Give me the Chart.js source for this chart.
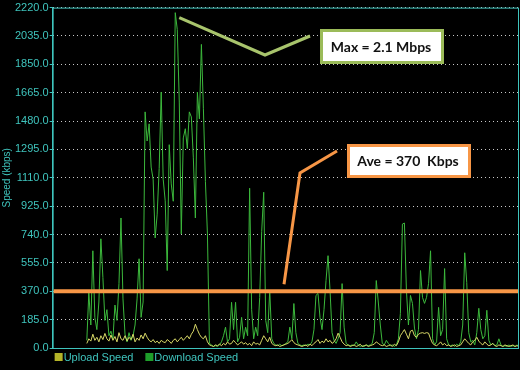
<!DOCTYPE html>
<html>
<head>
<meta charset="utf-8">
<script src="https://cdn.jsdelivr.net/npm/chart.js@4/dist/chart.umd.min.js"></script>
<style>
  html, body { margin: 0; padding: 0; background: #000; }
</style>
</head>
<body>
<canvas id="speedChart" width="520" height="370"></canvas>
<script>
// y ticks (kbps)
const yMax = 2220;
const yStep = 185;
const avgKbps = 370;

// samples, one every ~2px in the original capture
const download = [
  50, 360, 150, 634, 200, 120, 300, 712, 460, 180, 250, 80, 110, 60, 280, 180, 420, 848, 320, 90,
  40, 100, 50, 80, 150, 320, 582, 200,
  300, 1540, 1350, 1462, 1180, 1100, 718, 873, 1170, 1669, 1100, 960, 505, 1326, 1070, 957, 2187, 2077, 1604, 744,
  1370, 1430, 1300, 1540, 1507, 1240, 848, 1669, 1494, 1980, 1560, 1087, 744, 30,
  20, 10, 15, 10, 20, 40, 80, 136, 40, 60, 298, 120, 298, 40, 70, 200, 60, 136, 80, 1042,
  250, 60, 136, 80, 330, 760, 1016, 180, 100, 375, 60, 30, 20, 15, 25, 15, 20, 30, 40, 136,
  60, 290, 100, 30, 20, 15, 20, 15, 25, 20, 40, 120, 343, 356, 200, 120, 250, 440, 602, 375,
  100, 50, 30, 60, 100, 420, 136, 30, 20, 15, 20, 15, 40, 20, 10, 15, 10, 20, 15, 20,
  30, 100, 440, 300, 150, 30, 20, 50, 30, 15, 20, 10, 20, 60, 226, 808, 815, 375, 150, 343,
  291, 130, 60, 120, 505, 330, 291, 330, 420, 634, 60, 20, 40, 265, 80, 120, 518, 60, 20, 15,
  20, 10, 25, 15, 40, 150, 621, 427, 100, 40, 50, 20, 100, 259, 120, 60, 80, 246, 50, 20,
  30, 15, 20, 60, 20, 10, 15, 10, 20, 10, 15, 10, 20, 10
];

const upload = [
  30, 60, 45, 90, 50, 70, 40, 80, 55, 95, 60, 45, 85, 50, 75, 40, 100, 60, 50, 80,
  45, 70, 55, 90, 40, 65, 50, 85, 60,
  97, 70, 50, 40, 55, 35, 45, 30, 50, 40, 35, 55, 45, 30, 50, 60, 40, 55, 70, 50, 65, 80, 60,
  90, 110, 155, 120, 90, 70, 60, 80, 40, 20,
  15, 10, 20, 15, 25, 15, 30, 20, 40, 25, 30, 50, 35, 20, 30, 40, 25, 35, 20, 30, 15, 40, 25, 30, 20,
  50, 80, 60, 40, 70, 30, 20, 15, 20, 10, 15, 20, 25, 30, 40, 55, 35, 25, 20, 15,
  10, 15, 20, 10, 25, 15, 30, 40, 55, 30, 45, 35, 60, 40, 50, 30, 40, 60, 97, 70,
  40, 25, 15, 20, 10, 15, 20, 10, 15, 25, 10, 15, 20, 10, 15, 20, 25, 40, 30, 20, 15, 20, 10, 15, 20, 10, 25, 15,
  40, 80, 100, 120, 90, 60, 110, 116, 80, 70, 90, 97, 100, 95, 100, 97, 60,
  30, 20, 15, 25, 40, 20, 30, 15, 20, 10, 15, 20, 10, 15, 20, 40, 60, 45, 30, 20,
  40, 50, 70, 45, 30, 20, 40, 25, 15, 20, 30, 15, 10, 20, 15, 10, 20, 15, 10, 15, 20, 10, 15, 10
];

const seriesNames = ["Upload Speed", "Download Speed"];
const maxLabel = "Max = 2.1 Mbps";
const aveLabel = "Ave = 370  Kbps";

const teal = "#3fc4bd";
const tickFont = "'Liberation Sans', Arial, sans-serif";
const toPoints = arr => arr.map((v, i) => ({ x: i, y: v }));

// avg line, callout boxes, legend strip
const callouts = {
  id: "callouts",
  afterDatasetsDraw(chart) {
    const { ctx, chartArea: a, scales } = chart;
    const y = scales.y, x = scales.x;
    ctx.save();

    // frame
    ctx.strokeStyle = teal;
    ctx.lineWidth = 1;
    ctx.strokeRect(a.left + 0.5, a.top + 0.5, a.right - a.left - 1, a.bottom - a.top);

    // average line
    const ay = y.getPixelForValue(avgKbps);
    ctx.strokeStyle = "#f79646";
    ctx.lineWidth = 4;
    ctx.beginPath();
    ctx.moveTo(a.left + 1, ay);
    ctx.lineTo(a.right - 1, ay);
    ctx.stroke();

    // max pointer
    const maxIdx = download.indexOf(Math.max(...download));
    const mx = x.getPixelForValue(maxIdx), my = y.getPixelForValue(download[maxIdx]);
    ctx.strokeStyle = "#a8c46c";
    ctx.lineWidth = 3;
    ctx.beginPath();
    ctx.moveTo(mx + 4, my + 5);
    ctx.lineTo(265, 55);
    ctx.lineTo(310, 36);
    ctx.stroke();

    // ave pointer
    ctx.strokeStyle = "#f79646";
    ctx.beginPath();
    ctx.moveTo(284, ay - 7);
    ctx.lineTo(300, 173);
    ctx.lineTo(337, 151);
    ctx.stroke();

    ctx.font = "bold 14px Lato, 'Open Sans', sans-serif";
    ctx.textAlign = "center";
    ctx.textBaseline = "middle";

    ctx.fillStyle = "#fff";
    ctx.fillRect(321, 30, 121, 32);
    ctx.strokeStyle = "#9bbb59";
    ctx.strokeRect(321.5, 30.5, 121, 32);
    ctx.fillStyle = "#111";
    ctx.fillText(maxLabel, 381, 47);

    ctx.fillStyle = "#fff";
    ctx.fillRect(348, 145, 121, 31);
    ctx.strokeStyle = "#f79646";
    ctx.strokeRect(348.5, 145.5, 121, 31);
    ctx.fillStyle = "#111";
    ctx.fillText(aveLabel, 408, 161);

    // legend under the plot
    ctx.font = "11px " + tickFont;
    ctx.textAlign = "left";
    let lx = a.left + 2;
    const ly = a.bottom + 9;
    chart.data.datasets.forEach(ds => {
      ctx.fillStyle = ds.backgroundColor;
      ctx.fillRect(lx, ly - 4, 8, 8);
      ctx.fillStyle = teal;
      ctx.fillText(ds.label, lx + 9, ly + 1);
      lx += 9 + ctx.measureText(ds.label).width + 12;
    });

    ctx.restore();
  }
};

new Chart(document.getElementById("speedChart"), {
  type: "line",
  data: {
    datasets: [
      {
        label: seriesNames[0],
        data: toPoints(upload),
        borderColor: "#d8d868",
        backgroundColor: "#b4b428",
        borderWidth: 1,
        pointRadius: 0
      },
      {
        label: seriesNames[1],
        data: toPoints(download),
        borderColor: "#3cb83c",
        backgroundColor: "#1e9e2a",
        borderWidth: 1,
        pointRadius: 0
      }
    ]
  },
  options: {
    responsive: false,
    animation: false,
    layout: { padding: { top: -3, right: 1, bottom: 22, left: 0 } },
    plugins: {
      legend: { display: false },
      tooltip: { enabled: false }
    },
    scales: {
      x: {
        type: "linear",
        display: false,
        min: -17,
        max: download.length - 1
      },
      y: {
        min: 0,
        max: yMax,
        title: {
          display: true,
          text: "Speed (kbps)",
          color: teal,
          font: { family: tickFont, size: 10 },
          padding: 1
        },
        ticks: {
          stepSize: yStep,
          color: teal,
          padding: 1,
          font: { family: tickFont, size: 11 },
          callback: v => v.toFixed(1)
        },
        grid: {
          color: "#c8c8c8",
          tickColor: teal,
          tickLength: 3,
          tickBorderDash: []
        },
        border: { color: teal, dash: [1, 3] }
      }
    }
  },
  plugins: [callouts]
});
</script>
</body>
</html>
